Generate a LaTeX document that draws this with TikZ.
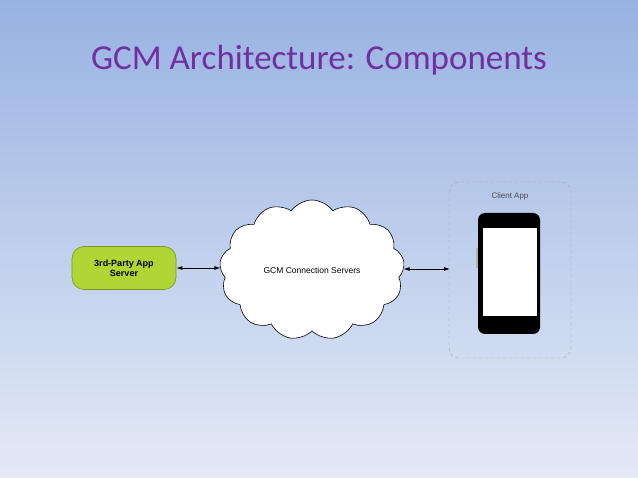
\documentclass[tikz,border=0pt]{standalone}
\usepackage{fontspec}
\setmainfont{Liberation Sans}
\newfontfamily\titlefont{Carlito}
\usetikzlibrary{shapes.symbols,arrows.meta}
\definecolor{bgtop}{RGB}{152,178,226}
\definecolor{bgbot}{RGB}{228,234,246}
\definecolor{ttl}{RGB}{112,48,160}
\definecolor{grn}{RGB}{176,214,54}
\definecolor{grnd}{RGB}{120,150,40}
\tikzset{conn/.style={{Latex[length=6pt,width=4pt]}-{Latex[length=6pt,width=4pt]},line width=0.8pt}}
\begin{document}
\begin{tikzpicture}[x=1pt,y=-1pt]
\shade[top color=bgtop,bottom color=bgbot] (0,0) rectangle (638,478);
\useasboundingbox (0,0) rectangle (638,478);
\node[font=\titlefont\fontsize{35}{40}\selectfont,text=ttl] (title) at (319,60) {GCM Architecture: Components};
\node[draw=grnd,fill=grn,rounded corners=12pt,minimum width=104pt,minimum height=43pt,align=center,font=\bfseries\fontsize{9}{10}\selectfont,line width=0.6pt] (srv) at (124,268) {3rd-Party App\\Server};
\node[cloud,cloud puffs=13,cloud puff arc=110,aspect=1.4,draw=black,fill=white,line width=0.6pt,minimum width=185pt,minimum height=140pt,inner sep=0pt,font=\fontsize{8.5}{10}\selectfont] (cloud) at (312,270) {GCM Connection Servers};
\draw[dashed,draw=gray!70,rounded corners=10pt] (449,182) rectangle (571,358);
\node[font=\fontsize{8}{10}\selectfont,text=gray!60!black] (capp) at (510,196) {Client App};
\coordinate (cl) at (450,269);
\node[fill=black,rounded corners=7pt,minimum width=62pt,minimum height=121pt,inner sep=0pt] (phone) at (509,273.5) {};
\fill[gray!60] (476,248) rectangle (478,268);
\fill[white] (483,228) rectangle (537,316);
\draw[conn] (srv.east) -- (cloud.west |- srv.east);
\draw[conn] (cloud.east |- cl) -- (cl);
\end{tikzpicture}
\end{document}
